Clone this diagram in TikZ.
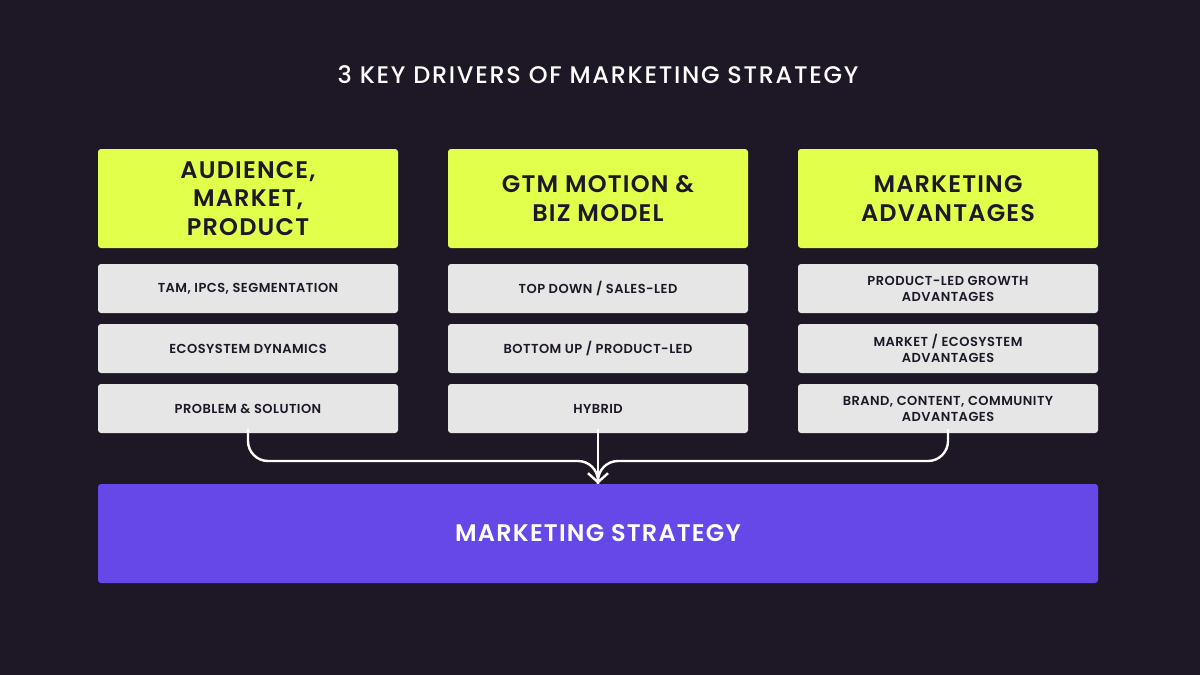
\documentclass[tikz,border=0pt]{standalone}
\usepackage{fontspec}
\setmainfont{Poppins}
\newfontfamily\pmed{Poppins}[UprightFont={* Medium}]
\newfontfamily\psemi{Poppins}[UprightFont={* SemiBold}]
\usetikzlibrary{arrows.meta}
\definecolor{bg}{HTML}{1E1826}
\definecolor{lime}{HTML}{E2FF4B}
\definecolor{grayb}{HTML}{E6E6E6}
\definecolor{ink}{HTML}{1E1826}
\definecolor{purp}{HTML}{6647E8}
\begin{document}
\begin{tikzpicture}[x=1pt,y=-1pt,
  headbox/.style={fill=lime, rounded corners=3pt, minimum width=300pt, minimum height=99pt, inner sep=0pt,
    text=ink, align=center, font=\fontsize{24}{28.3}\selectfont\psemi\addfontfeatures{LetterSpace=5}},
  itembox/.style={fill=grayb, rounded corners=3pt, minimum width=300pt, minimum height=49pt, inner sep=0pt,
    text=ink, align=center, font=\fontsize{13}{16}\selectfont\psemi\addfontfeatures{LetterSpace=3.5}},
  mainbox/.style={fill=purp, rounded corners=3pt, minimum width=1000pt, minimum height=99pt, inner sep=0pt,
    text=white, align=center, font=\fontsize{24}{28}\selectfont\psemi\addfontfeatures{LetterSpace=5}},
  conn/.style={draw=white, line width=2.4pt, rounded corners=20pt},
  tip/.style={-{Straight Barb[length=9pt,width=20pt,line width=2.4pt]}}
]
\fill[bg] (0,0) rectangle (1200,675);
\useasboundingbox (0,0) rectangle (1200,675);
\node[text=white, font=\fontsize{24}{26}\selectfont\pmed\addfontfeatures{LetterSpace=7}] (title) at (598,75) {3 KEY DRIVERS OF MARKETING STRATEGY};

\node[headbox] (h1) at (248,198.5) {AUDIENCE,\\MARKET,\\PRODUCT};
\node[headbox] (h2) at (598,198.5) {GTM MOTION \&\\BIZ MODEL};
\node[headbox] (h3) at (948,198.5) {MARKETING\\ADVANTAGES};

\node[itembox] (a1) at (248,288.5) {TAM, IPCS, SEGMENTATION};
\node[itembox] (a2) at (248,348.5) {ECOSYSTEM DYNAMICS};
\node[itembox] (a3) at (248,408.5) {PROBLEM \& SOLUTION};

\node[itembox] (b1) at (598,288.5) {TOP DOWN / SALES-LED};
\node[itembox] (b2) at (598,348.5) {BOTTOM UP / PRODUCT-LED};
\node[itembox] (b3) at (598,408.5) {HYBRID};

\node[itembox] (c1) at (948,288.5) {PRODUCT-LED GROWTH\\ADVANTAGES};
\node[itembox] (c2) at (948,348.5) {MARKET / ECOSYSTEM\\ADVANTAGES};
\node[itembox] (c3) at (948,408.5) {BRAND, CONTENT, COMMUNITY\\ADVANTAGES};

\node[mainbox] (ms) at (598,533.5) {MARKETING STRATEGY};

\coordinate (mid) at (598,461);
\draw[conn] ([yshift=4pt]a3.south) |- (mid) -- (ms.north);
\draw[conn] ([yshift=4pt]c3.south) |- (mid) -- (ms.north);
\draw[conn, tip] ([yshift=4pt]b3.south) -- (ms.north);
\end{tikzpicture}
\end{document}
